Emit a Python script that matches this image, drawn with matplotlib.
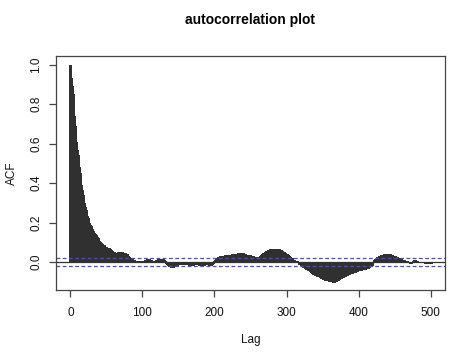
import numpy as np
import matplotlib.pyplot as plt

plt.rcParams['font.family'] = ['Liberation Sans', 'DejaVu Sans']

# autocorrelation values, one per lag (0..500)
acf_values = [
    1.000, 0.930, 0.890, 0.850, 0.800, 0.740, 0.690, 0.650, 0.610, 0.570,
    0.540, 0.510, 0.480, 0.450, 0.420, 0.390, 0.365, 0.340, 0.320, 0.300,
    0.280, 0.265, 0.250, 0.235, 0.222, 0.210, 0.200, 0.190, 0.182, 0.174,
    0.166, 0.159, 0.152, 0.148, 0.144, 0.138, 0.132, 0.126, 0.120, 0.114,
    0.108, 0.103, 0.098, 0.094, 0.090, 0.087, 0.084, 0.080, 0.077, 0.075,
    0.073, 0.072, 0.071, 0.070, 0.069, 0.066, 0.062, 0.058, 0.055, 0.052,
    0.049, 0.046, 0.045, 0.045, 0.046, 0.048, 0.050, 0.051, 0.052, 0.052,
    0.051, 0.050, 0.049, 0.048, 0.047, 0.046, 0.044, 0.042, 0.040, 0.036,
    0.032, 0.028, 0.025, 0.022, 0.019, 0.016, 0.013, 0.011, 0.009, 0.007,
    0.006, 0.005, 0.005, 0.004, 0.004, 0.005, 0.006, 0.006, 0.005, 0.004,
    0.004, 0.005, 0.007, 0.009, 0.011, 0.013, 0.014, 0.015, 0.015, 0.014,
    0.012, 0.010, 0.008, 0.006, 0.005, 0.004, 0.004, 0.005, 0.006, 0.008,
    0.010, 0.012, 0.014, 0.016, 0.017, 0.018, 0.018, 0.017, 0.015, 0.012,
    0.008, 0.004, 0.000, -0.004, -0.008, -0.012, -0.015, -0.018, -0.020, -0.022,
    -0.023, -0.024, -0.024, -0.023, -0.022, -0.020, -0.018, -0.016, -0.014, -0.012,
    -0.011, -0.010, -0.009, -0.008, -0.008, -0.009, -0.010, -0.011, -0.012, -0.012,
    -0.012, -0.011, -0.010, -0.010, -0.011, -0.013, -0.015, -0.016, -0.016, -0.015,
    -0.013, -0.011, -0.010, -0.009, -0.009, -0.010, -0.011, -0.012, -0.013, -0.014,
    -0.015, -0.016, -0.016, -0.015, -0.014, -0.013, -0.012, -0.011, -0.010, -0.010,
    -0.011, -0.012, -0.013, -0.014, -0.014, -0.013, -0.011, -0.008, -0.004, 0.000,
    0.005, 0.010, 0.015, 0.019, 0.023, 0.026, 0.028, 0.029, 0.030, 0.030,
    0.031, 0.032, 0.032, 0.033, 0.033, 0.034, 0.034, 0.035, 0.035, 0.035,
    0.036, 0.036, 0.037, 0.037, 0.038, 0.039, 0.040, 0.041, 0.041, 0.042,
    0.042, 0.043, 0.043, 0.044, 0.044, 0.044, 0.043, 0.043, 0.044, 0.044,
    0.043, 0.041, 0.039, 0.037, 0.036, 0.035, 0.035, 0.036, 0.037, 0.036,
    0.034, 0.032, 0.030, 0.029, 0.028, 0.027, 0.026, 0.025, 0.024, 0.024,
    0.024, 0.025, 0.027, 0.030, 0.033, 0.036, 0.039, 0.042, 0.045, 0.048,
    0.051, 0.054, 0.056, 0.058, 0.060, 0.062, 0.063, 0.064, 0.065, 0.065,
    0.066, 0.066, 0.066, 0.066, 0.066, 0.065, 0.065, 0.065, 0.064, 0.064,
    0.063, 0.062, 0.060, 0.058, 0.056, 0.053, 0.050, 0.047, 0.044, 0.042,
    0.040, 0.037, 0.034, 0.031, 0.028, 0.025, 0.022, 0.019, 0.016, 0.013,
    0.011, 0.009, 0.007, 0.005, 0.003, 0.001, -0.001, -0.004, -0.008, -0.012,
    -0.015, -0.018, -0.021, -0.024, -0.027, -0.029, -0.031, -0.033, -0.035, -0.037,
    -0.039, -0.041, -0.043, -0.046, -0.049, -0.052, -0.055, -0.058, -0.061, -0.064,
    -0.066, -0.068, -0.070, -0.071, -0.072, -0.073, -0.075, -0.077, -0.079, -0.081,
    -0.083, -0.085, -0.087, -0.088, -0.089, -0.090, -0.091, -0.092, -0.093, -0.094,
    -0.095, -0.096, -0.097, -0.098, -0.099, -0.100, -0.099, -0.098, -0.096, -0.094,
    -0.092, -0.090, -0.088, -0.086, -0.083, -0.081, -0.079, -0.077, -0.075, -0.073,
    -0.071, -0.069, -0.068, -0.066, -0.064, -0.062, -0.060, -0.058, -0.057, -0.056,
    -0.055, -0.053, -0.052, -0.050, -0.049, -0.048, -0.046, -0.045, -0.044, -0.042,
    -0.041, -0.040, -0.040, -0.039, -0.038, -0.037, -0.036, -0.035, -0.034, -0.033,
    -0.032, -0.031, -0.030, -0.028, -0.026, -0.024, -0.022, -0.018, -0.013, -0.007,
    -0.001, 0.005, 0.010, 0.014, 0.018, 0.021, 0.024, 0.027, 0.029, 0.031,
    0.032, 0.034, 0.035, 0.036, 0.037, 0.038, 0.039, 0.040, 0.041, 0.041,
    0.041, 0.040, 0.040, 0.039, 0.038, 0.037, 0.036, 0.034, 0.032, 0.030,
    0.029, 0.028, 0.027, 0.026, 0.025, 0.023, 0.021, 0.019, 0.017, 0.015,
    0.013, 0.011, 0.010, 0.008, 0.007, 0.005, 0.004, 0.003, 0.002, 0.001,
    -0.001, -0.003, -0.004, -0.003, -0.001, 0.002, 0.005, 0.008, 0.009, 0.008,
    0.006, 0.004, 0.002, 0.000, -0.001, -0.002, -0.002, -0.001, 0.000, 0.000,
    -0.001, -0.002, -0.003, -0.004, -0.005, -0.006, -0.006, -0.007, -0.007, -0.007,
    -0.007,
]
lags = np.arange(len(acf_values))
conf_limit = 0.0204

x_ticks = [0, 100, 200, 300, 400, 500]
y_ticks = [0.0, 0.2, 0.4, 0.6, 0.8, 1.0]

fig = plt.figure(figsize=(4.74, 3.61), dpi=100)
ax = fig.add_axes([0.1181, 0.1953, 0.8207, 0.6496])

ax.vlines(lags, 0, acf_values, color='#303030', linewidth=1.0, antialiased=False)
ax.axhline(0, color='#333333', linewidth=0.9)
ax.axhline(conf_limit, color='#4a4ad0', linewidth=0.9, linestyle=(0, (3, 2)))
ax.axhline(-conf_limit, color='#4a4ad0', linewidth=0.9, linestyle=(0, (3, 2)))

ax.set_xlim(-20, 520)
ax.set_ylim(-0.144, 1.044)
ax.set_xticks(x_ticks)
ax.set_xticklabels([str(t) for t in x_ticks])
ax.set_yticks(y_ticks)
ax.set_yticklabels(['%.1f' % t for t in y_ticks], rotation=90, va='center')

for s in ax.spines.values():
    s.set_color('#444444')
    s.set_linewidth(0.9)
ax.tick_params(axis='both', length=5, width=0.9, color='#444444', labelsize=8.5,
               labelcolor='#111111')
ax.tick_params(axis='x', pad=7)
ax.tick_params(axis='y', pad=5)

ax.set_xlabel('Lag', fontsize=8.5, labelpad=11, color='#111111')
ax.set_ylabel('ACF', fontsize=8.5, labelpad=9, color='#111111')
ax.set_title('autocorrelation plot', fontsize=10, fontweight='bold', pad=23)

fig.savefig('out.png', dpi=100)
